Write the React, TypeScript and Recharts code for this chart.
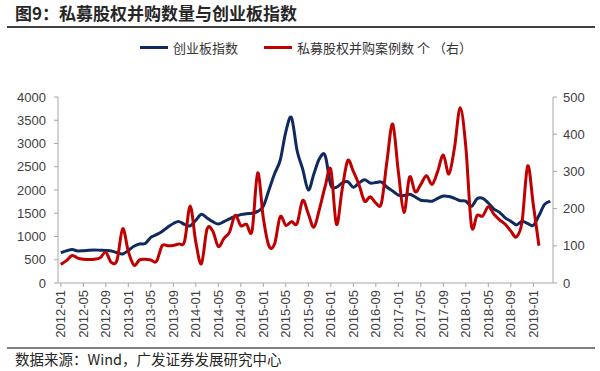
import { LineChart, Line, XAxis, YAxis, Legend } from 'recharts';

// 2012-01 .. 2019-04, monthly
const YEARS = [2012, 2013, 2014, 2015, 2016, 2017, 2018, 2019];
const MONTHS = ['01', '02', '03', '04', '05', '06', '07', '08', '09', '10', '11', '12'];
const categories: string[] = YEARS.flatMap(y => MONTHS.map(m => `${y}-${m}`)).slice(0, 88);

// 创业板指数 (left axis)
const chinext = [
  650, 690, 720, 690, 695, 705, 710, 705, 700, 690, 650, 625,
  700, 790, 840, 850, 980, 1040, 1110, 1200, 1280, 1320, 1260, 1230,
  1350, 1480, 1400, 1320, 1270, 1320, 1380, 1430, 1470, 1490, 1500, 1540,
  1650, 2000, 2350, 2640, 3250, 3560, 2850, 2450, 2000, 2350, 2680, 2740,
  2100, 2060, 2150, 2180, 2060, 2150, 2220, 2150, 2160, 2170, 2060, 1980,
  1890, 1880, 1910, 1850, 1780, 1770, 1760, 1820, 1870, 1860, 1820, 1770,
  1760, 1650, 1810, 1820, 1720, 1590, 1520, 1400, 1330, 1250, 1330, 1280,
  1240, 1450, 1690, 1760,
];

// 私募股权并购案例数 (right axis), ends 2019-02
const peMa = [
  50, 60, 74, 67, 64, 63, 64, 68, 82, 55, 62, 146,
  85, 48, 62, 64, 62, 58, 100, 100, 101, 105, 112, 207,
  110, 52, 145, 140, 98, 120, 137, 182, 154, 158, 140, 296,
  175, 100, 105, 178, 155, 165, 160, 222, 186, 150, 200, 260,
  305, 158, 250, 329, 300, 265, 220, 232, 215, 215, 330, 427,
  300, 190, 285, 245, 265, 288, 265, 300, 344, 293, 365, 471,
  366, 154, 182, 180, 205, 185, 170, 158, 140, 124, 165, 315,
  210, 100,
];

const leftTicks = [0, 500, 1000, 1500, 2000, 2500, 3000, 3500, 4000];
const rightTicks = [0, 50, 100, 150, 200, 250, 300, 350, 400, 450, 500];

const data = categories.map((month, i) => ({
  month,
  chinext: chinext[i],
  peMa: i < peMa.length ? peMa[i] : null,
}));

const BLUE = '#0f2a5e';
const RED = '#c00000';
const AXIS = '#a6a6a6';
const TEXT = '#404040';
const CJK = '"Noto Sans CJK SC", "Noto Sans", sans-serif';
const LATIN = '"Liberation Sans", Arial, sans-serif';

// Excel-style smoothed line (Catmull-Rom through every point)
const excelCurve = (ctx: any) => {
  let pts: [number, number][] = [];
  return {
    areaStart() {},
    areaEnd() {},
    lineStart() {
      pts = [];
    },
    point(x: number, y: number) {
      pts.push([+x, +y]);
    },
    lineEnd() {
      const n = pts.length;
      if (!n) return;
      ctx.moveTo(pts[0][0], pts[0][1]);
      for (let i = 0; i < n - 1; i++) {
        const p0 = pts[Math.max(i - 1, 0)];
        const p1 = pts[i];
        const p2 = pts[i + 1];
        const p3 = pts[Math.min(i + 2, n - 1)];
        ctx.bezierCurveTo(
          p1[0] + (p2[0] - p0[0]) / 6,
          p1[1] + (p2[1] - p0[1]) / 6,
          p2[0] - (p3[0] - p1[0]) / 6,
          p2[1] - (p3[1] - p1[1]) / 6,
          p2[0],
          p2[1],
        );
      }
    },
  };
};

const MonthTick = ({ x, y, payload }: any) => (
  <text
    x={x}
    y={y}
    dy="0.35em"
    transform={`rotate(-90, ${x}, ${y})`}
    textAnchor="end"
    fontSize={13}
    fontFamily={LATIN}
    fill={TEXT}
  >
    {payload.value}
  </text>
);

const LegendContent = ({ payload }: any) => (
  <div style={{ display: 'flex', justifyContent: 'center', paddingLeft: 12, gap: 26 }}>
    {(payload || []).map((item: any) => (
      <div key={item.value} style={{ display: 'flex', alignItems: 'center' }}>
        <span style={{ display: 'inline-block', width: 28, height: 3, background: item.color, marginRight: 5 }} />
        <span style={{ fontSize: 13, fontFamily: CJK, color: '#333' }}>{item.value}</span>
      </div>
    ))}
  </div>
);

export default function App() {
  return (
    <div style={{ position: 'absolute', left: 0, top: 0, width: 600, height: 371, background: '#fff' }}>
      <div
        style={{
          position: 'absolute',
          left: 15,
          top: 2,
          fontSize: 17,
          fontWeight: 700,
          fontFamily: CJK,
          color: '#262626',
          lineHeight: '22px',
        }}
      >
        图9：私募股权并购数量与创业板指数
      </div>
      <div style={{ position: 'absolute', left: 7, top: 26, width: 588, height: 1.5, background: '#404040' }} />

      <LineChart width={600} height={371} data={data} margin={{ top: 78, right: 0, bottom: 28, left: 0 }}>
        <XAxis
          dataKey="month"
          interval={3}
          padding={{ left: 2.8, right: 2.8 }}
          height={60}
          tick={<MonthTick />}
          tickSize={4}
          tickMargin={3}
          stroke={AXIS}
        />
        <YAxis
          yAxisId="left"
          domain={[0, 4000]}
          ticks={leftTicks}
          width={58}
          tickSize={4}
          tickMargin={8}
          stroke={AXIS}
          tick={{ fontSize: 13, fontFamily: LATIN, fill: TEXT }}
        />
        <YAxis
          yAxisId="right"
          orientation="right"
          domain={[0, 500]}
          ticks={rightTicks}
          width={47}
          tickSize={4}
          tickMargin={6}
          stroke={AXIS}
          tick={{ fontSize: 13, fontFamily: LATIN, fill: TEXT, textAnchor: 'start' }}
        />
        <Legend verticalAlign="top" wrapperStyle={{ top: 38, left: 0, width: 600 }} content={<LegendContent />} />
        <Line
          yAxisId="left"
          dataKey="chinext"
          name="创业板指数"
          type={excelCurve as any}
          stroke={BLUE}
          strokeWidth={3}
          dot={false}
          isAnimationActive={false}
        />
        <Line
          yAxisId="right"
          dataKey="peMa"
          name="私募股权并购案例数 个 （右）"
          type={excelCurve as any}
          stroke={RED}
          strokeWidth={3}
          dot={false}
          isAnimationActive={false}
        />
      </LineChart>

      <div style={{ position: 'absolute', left: 7, top: 347, width: 588, height: 2, background: '#808080' }} />
      <div
        style={{
          position: 'absolute',
          left: 15,
          top: 350,
          fontSize: 14.5,
          fontFamily: CJK,
          color: '#262626',
          lineHeight: '18px',
        }}
      >
        数据来源：Wind，广发证券发展研究中心
      </div>
    </div>
  );
}
